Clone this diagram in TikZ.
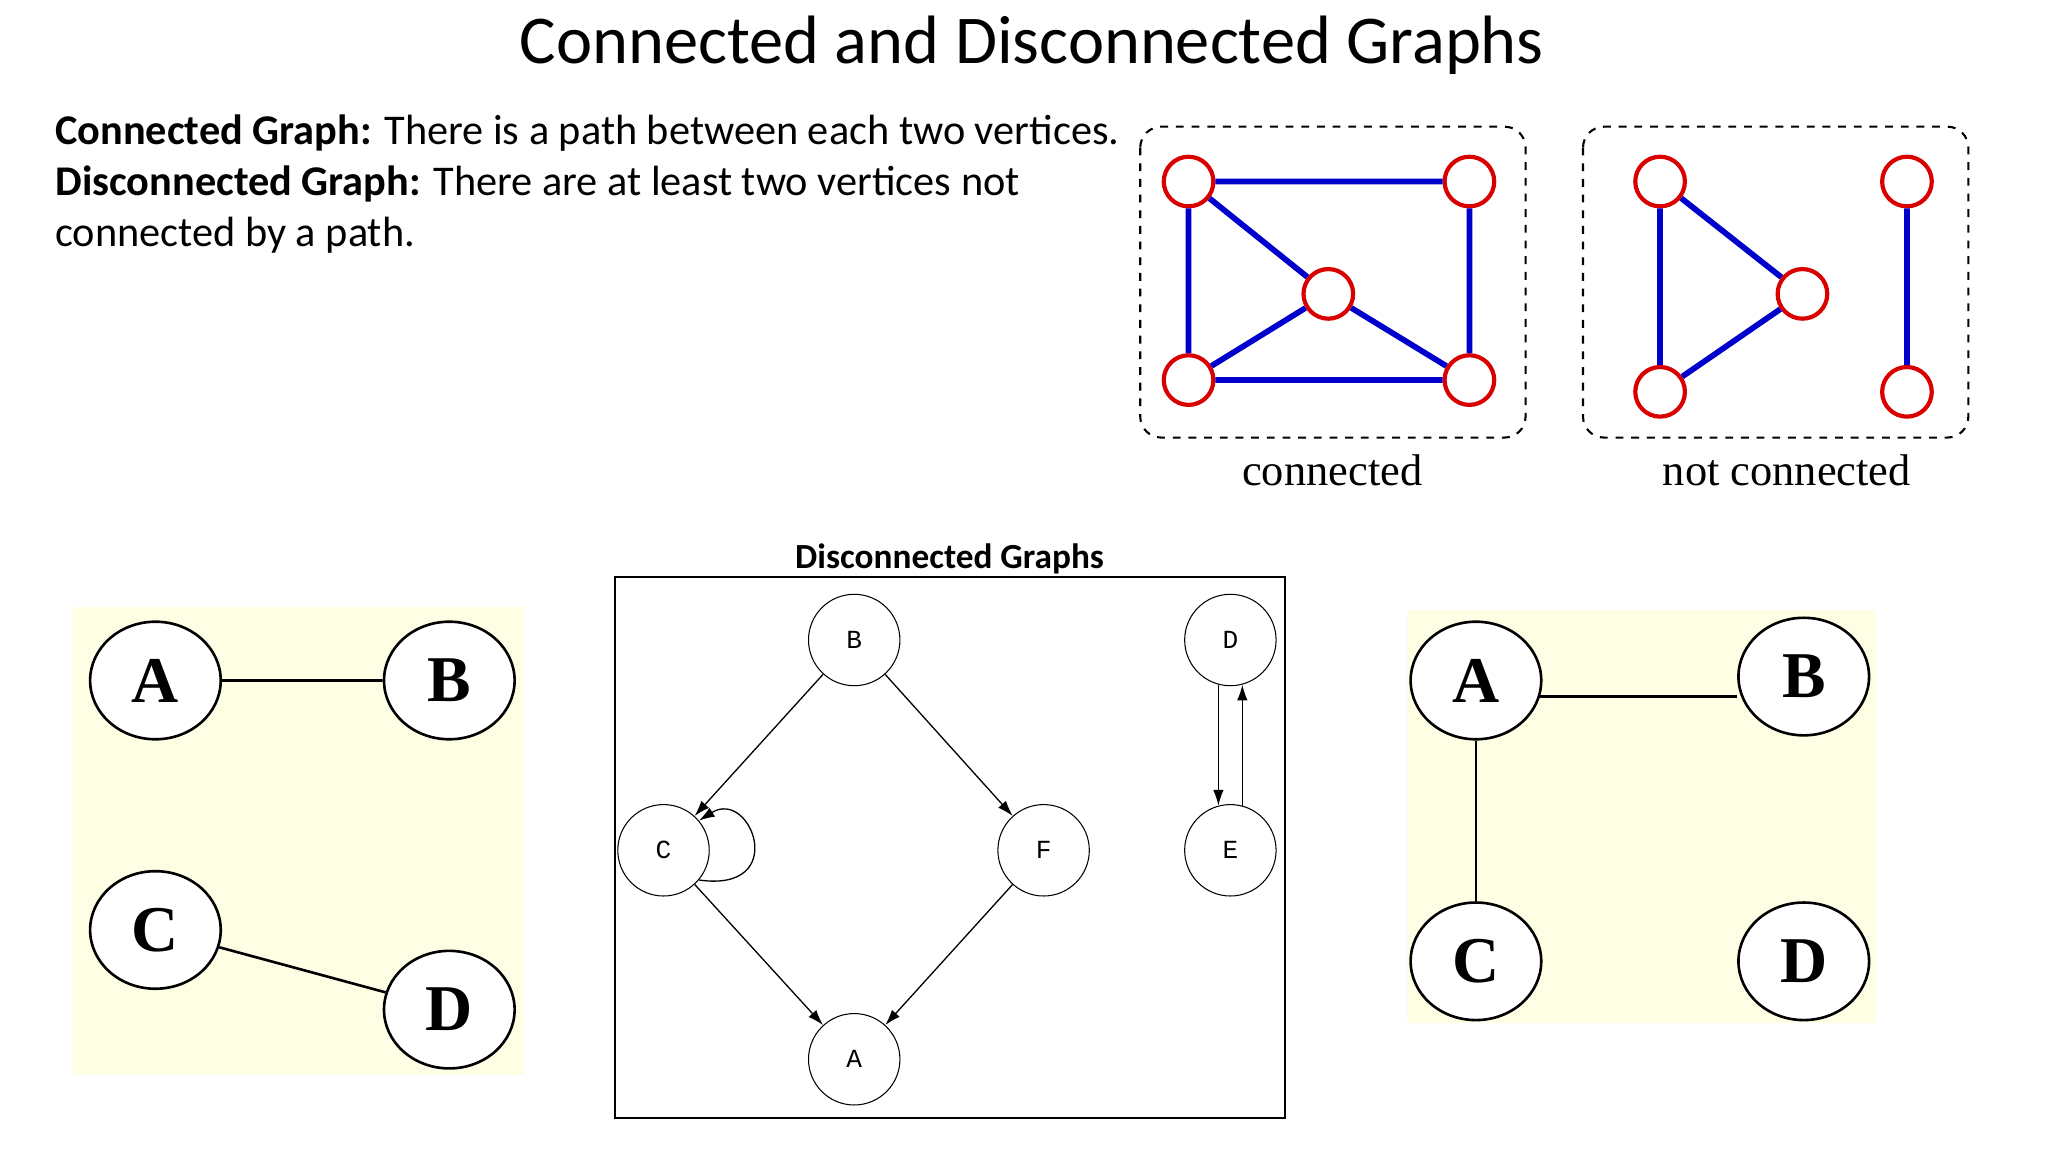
\documentclass[tikz,border=0pt]{standalone}
\usepackage{fontspec}
\setmainfont{Carlito}
\newfontfamily\tms{Liberation Serif}
\newfontfamily\mono{Liberation Mono}
\usetikzlibrary{arrows.meta,shapes.geometric}
\definecolor{pale}{HTML}{FDFEE4}
\tikzset{
 rv/.style={circle,draw=red!85!black,line width=1.6pt,fill=white,minimum size=19pt,inner sep=0pt},
 be/.style={blue!80!black,line width=2.2pt},
 big/.style={ellipse,draw,line width=1pt,fill=white,minimum width=50pt,minimum height=45pt,font=\tms\bfseries\fontsize{25}{25}\selectfont},
 mc/.style={circle,draw,fill=white,minimum size=35pt,inner sep=0pt,font=\mono\fontsize{10}{10}\selectfont},
 ar/.style={-{Latex[length=6pt,width=4pt]},line width=0.5pt}
}
\begin{document}
\begin{tikzpicture}[x=0.5pt,y=-0.5pt]
\useasboundingbox (0,0) rectangle (1568,882);
\node (title) at (790,35) {\fontsize{26.2}{26.2}\selectfont Connected and Disconnected Graphs};
\node[anchor=west,align=left,inner sep=0pt,font=\fontsize{16.2}{19.5}\selectfont] (txt) at (42,141)
 {\textbf{Connected Graph:} There is a path between each two vertices.\\
  \textbf{Disconnected Graph:} There are at least two vertices not\\
  connected by a path.};
% top right
\draw[dashed,rounded corners=8pt,line width=0.8pt] (873,97) rectangle (1168,335);
\draw[dashed,rounded corners=8pt,line width=0.8pt] (1212,97) rectangle (1507,335);
\node[rv] (a1) at (910,139) {}; \node[rv] (a2) at (1125,139) {};
\node[rv] (a3) at (1017,225) {}; \node[rv] (a4) at (910,291) {};
\node[rv] (a5) at (1125,291) {};
\draw[be] (a1)--(a2) (a1)--(a4) (a4)--(a5) (a2)--(a5) (a1)--(a3) (a3)--(a4) (a3)--(a5);
\node[rv] (b1) at (1271,139) {}; \node[rv] (b2) at (1460,139) {};
\node[rv] (b3) at (1380,225) {}; \node[rv] (b4) at (1271,300) {};
\node[rv] (b5) at (1460,300) {};
\draw[be] (b1)--(b4) (b1)--(b3) (b3)--(b4) (b2)--(b5);
\node[font=\tms\fontsize{17}{17}\selectfont] (l1) at (1020,360) {connected};
\node[font=\tms\fontsize{17}{17}\selectfont] (l2) at (1368,360) {not connected};
% bottom left
\fill[pale] (55,465) rectangle (401,823);
\node[big] (A1) at (119,521) {A}; \node[big] (B1) at (344,521) {B};
\node[big] (C1) at (119,712) {C}; \node[big] (D1) at (344,773) {D};
\draw[line width=1pt] (A1)--(B1) (C1)--(D1);
% middle
\node[font=\bfseries\fontsize{13.5}{13.5}\selectfont] (mt) at (727,428) {Disconnected Graphs};
\draw[line width=0.7pt] (471,442) rectangle (984,856);
\node[mc] (B) at (654,490) {B}; \node[mc] (C) at (508,651) {C};
\node[mc] (F) at (799,651) {F}; \node[mc] (A) at (654,811) {A};
\node[mc] (D) at (942,490) {D}; \node[mc] (E) at (942,651) {E};
\draw[ar] (B)--(C); \draw[ar] (B)--(F); \draw[ar] (C)--(A); \draw[ar] (F)--(A);
\draw[ar] (D.255)--(E.105); \draw[ar] (E.75)--(D.285);
\draw[ar] (C.-40) .. controls +(70,10) and +(40,-25) .. (C.40);
% right
\fill[pale] (1077,467) rectangle (1436,783);
\node[big] (A2) at (1130,521) {A}; \node[big] (B2) at (1381,518) {B};
\node[big] (C2) at (1130,736) {C}; \node[big] (D2) at (1381,736) {D};
\draw[line width=1pt] (A2.-14)--(B2.west|-A2.-14);
\draw[line width=1pt] (A2)--(C2);
\end{tikzpicture}
\end{document}
